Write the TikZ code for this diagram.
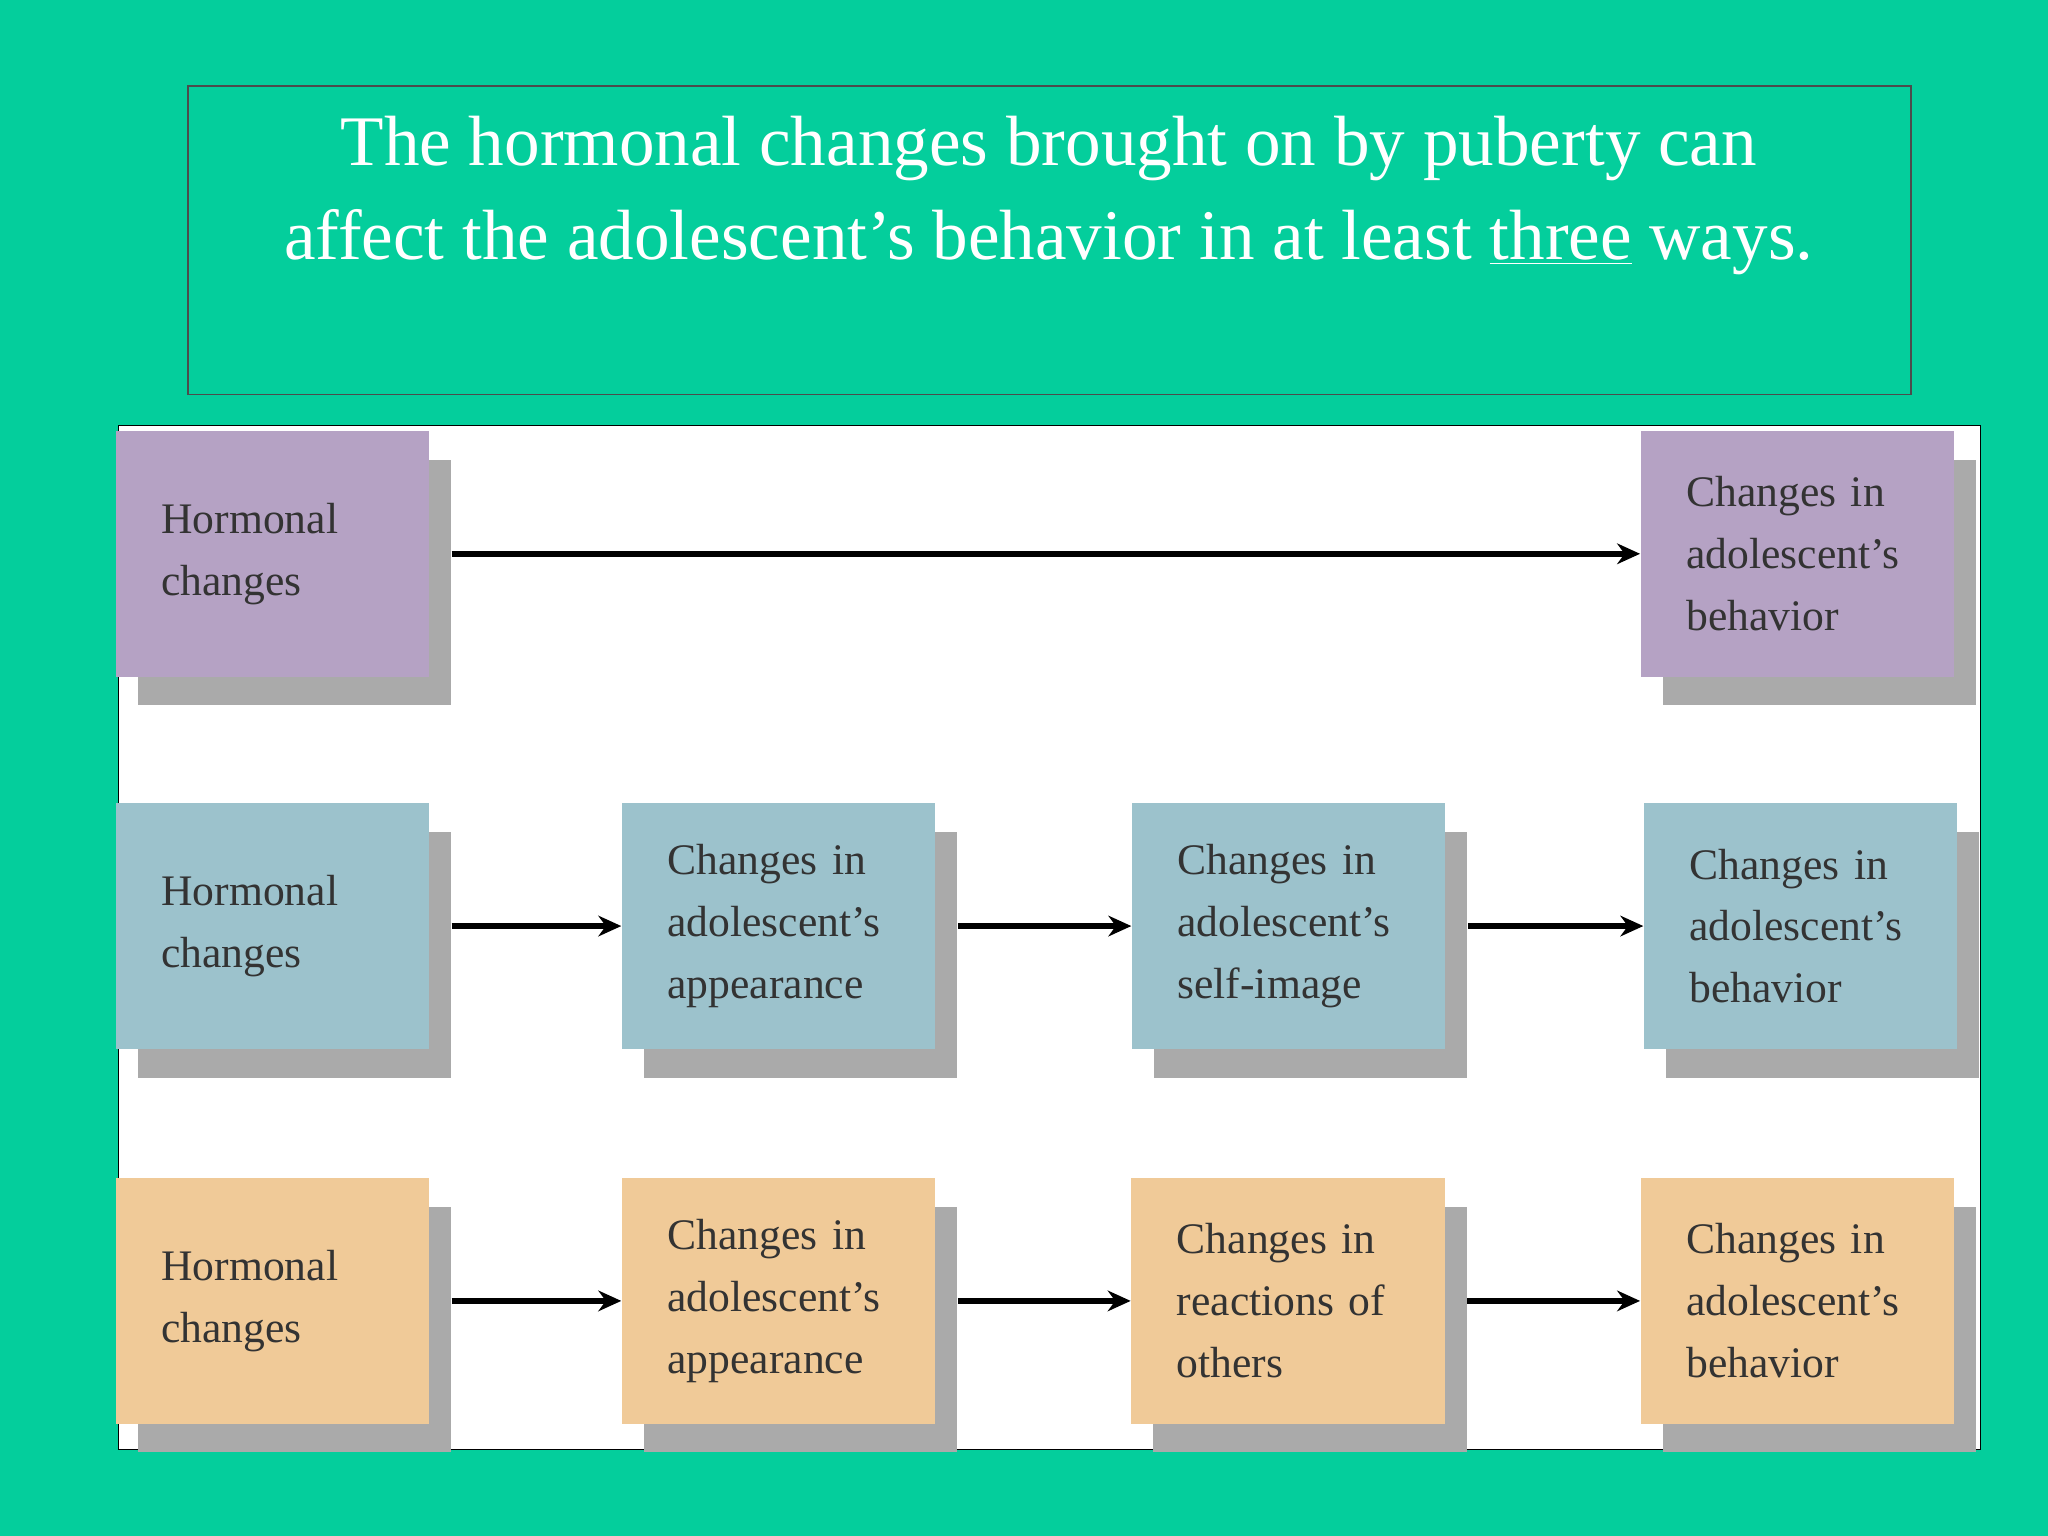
\documentclass[tikz,border=0pt]{standalone}
\usepackage{fontspec}
\setmainfont{Liberation Serif}
\usetikzlibrary{shadows,arrows.meta}
\definecolor{color_bg}{RGB}{4,206,156}
\definecolor{color_purple}{RGB}{181,162,196}
\definecolor{color_blue}{RGB}{156,194,204}
\definecolor{color_orange}{RGB}{240,202,152}
\definecolor{color_shadow}{RGB}{170,170,170}

\begin{document}
\begin{tikzpicture}[
    x=0.02cm, y=-0.02cm,
    every node/.style={font=\fontsize{19}{27}\selectfont},
    stagebox/.style={minimum width=4.75cm, minimum height=3.76cm, inner xsep=0.7cm,
        text width=3.4cm, align=left, text=black!80,
        drop shadow={shadow xshift=0.34cm, shadow yshift=-0.44cm, fill=color_shadow, opacity=1}},
    stagearrow/.style={-{Stealth[length=10pt,width=9pt]}, line width=2.4pt}
]
    % page and frames
    \fill[color_bg] (0,0) rectangle (1568,1176);
    \draw[black!70, thick] (144,66) rectangle (1463,302);
    \node[text=white, align=center, font=\fontsize{31}{41}\selectfont] (title) at (803,150)
        {The hormonal changes brought on by puberty can\\affect the adolescent’s behavior in at least \underline{three} ways.};
    \draw[draw=black, fill=white] (91,326) rectangle (1516,1110);

    % row 1
    \node[stagebox, fill=color_purple] (hA) at (208.5,424) {Hormonal\\changes};
    \node[stagebox, fill=color_purple] (bA) at (1376,424) {Changes in\\adolescent's\\behavior};
    \draw[stagearrow] (hA.east) ++(17,0) -- (bA.west);

    % row 2
    \node[stagebox, fill=color_blue] (hB) at (208.5,709) {Hormonal\\changes};
    \node[stagebox, fill=color_blue] (aB) at (596,709) {Changes in\\adolescent's\\appearance};
    \node[stagebox, fill=color_blue] (sB) at (986.5,709) {Changes in\\adolescent's\\self-image};
    \node[stagebox, fill=color_blue] (bB) at (1378.5,709) {Changes in\\adolescent's\\behavior};

    % row 3
    \node[stagebox, fill=color_orange] (hC) at (208.5,996) {Hormonal\\changes};
    \node[stagebox, fill=color_orange] (aC) at (596,996) {Changes in\\adolescent's\\appearance};
    \node[stagebox, fill=color_orange] (rC) at (986,996) {Changes in\\reactions of\\others};
    \node[stagebox, fill=color_orange] (bC) at (1376,996) {Changes in\\adolescent's\\behavior};

    \foreach \a/\b in {hB/aB, aB/sB, sB/bB, hC/aC, aC/rC, rC/bC}{
        \draw[stagearrow] (\a.east) ++(17,0) -- (\b.west);
    }
\end{tikzpicture}
\end{document}
